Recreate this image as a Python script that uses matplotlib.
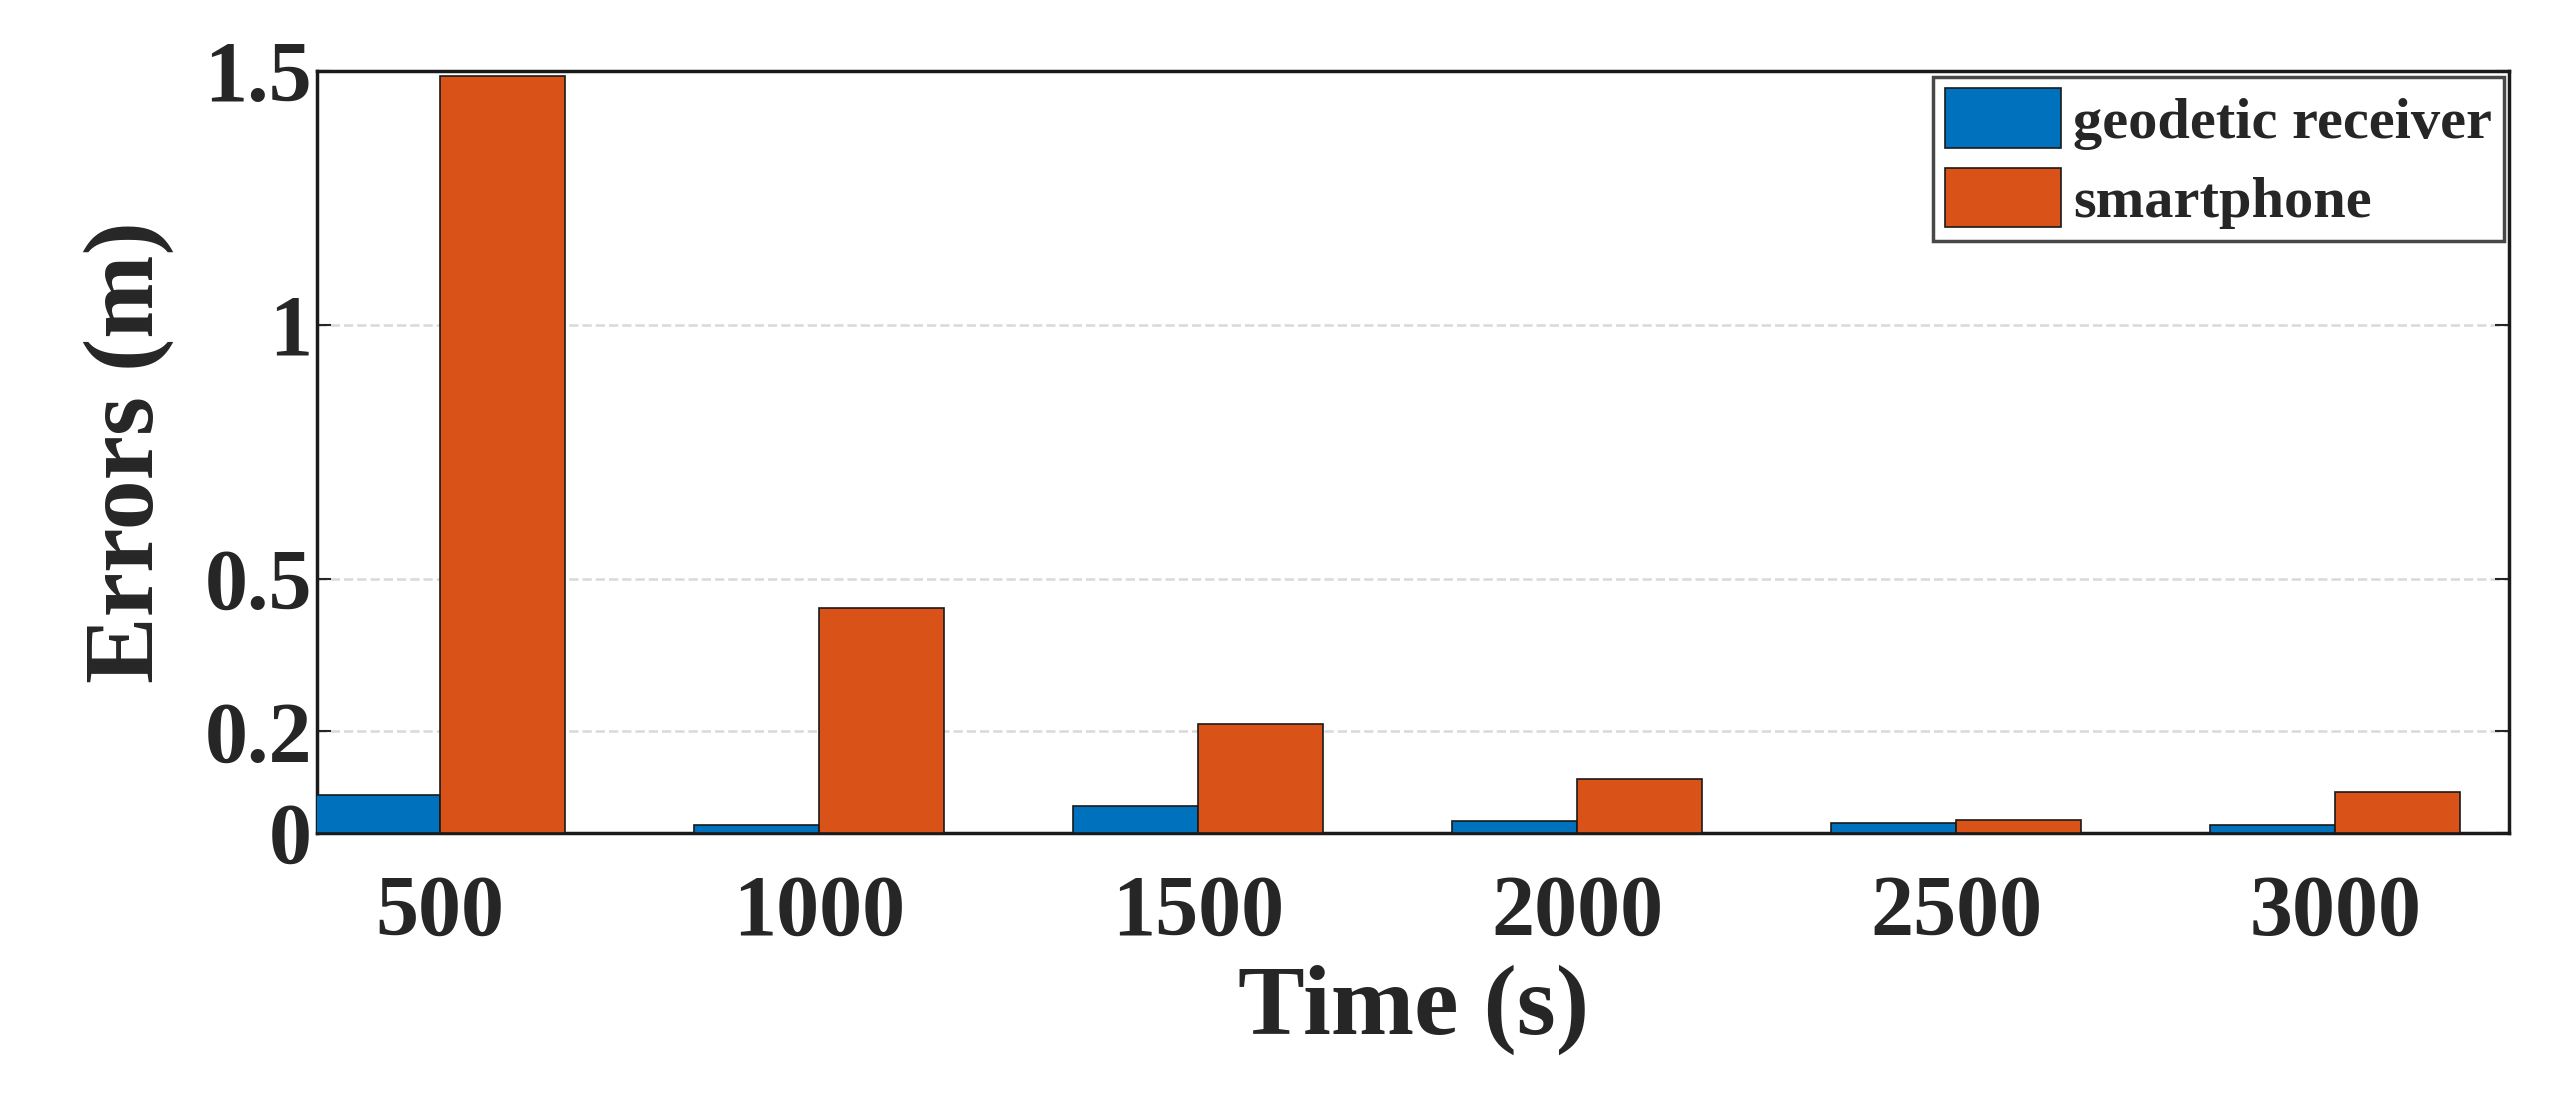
import matplotlib
matplotlib.use("Agg")
import matplotlib.pyplot as plt
import numpy as np

categories = ["500", "1000", "1500", "2000", "2500", "3000"]
geodetic = [0.074, 0.016, 0.052, 0.023, 0.020, 0.016]
smartphone = [1.49, 0.443, 0.214, 0.107, 0.026, 0.081]
yticks = [0, 0.2, 0.5, 1, 1.5]
yticklabels = ["0", "0.2", "0.5", "1", "1.5"]

plt.rcParams['font.family'] = ['Liberation Serif', 'DejaVu Serif']
plt.rcParams['font.weight'] = 'bold'

fig = plt.figure(figsize=(25.62, 11.09), dpi=100)
ax = fig.add_axes([0.1237, 0.249, 0.9795 - 0.1237, 0.936 - 0.249])
x = np.arange(1, len(categories) + 1)
w = 0.33
ax.bar(x - w/2, geodetic, w, color='#0072BD', edgecolor='#1a1a1a', linewidth=1.2, label='geodetic receiver', zorder=3)
ax.bar(x + w/2, smartphone, w, color='#D95319', edgecolor='#1a1a1a', linewidth=1.2, label='smartphone', zorder=3)
ax.set_xlim(0.675, 6.46)
ax.set_ylim(0, 1.5)
ax.set_yticks(yticks)
ax.set_yticklabels(yticklabels)
ax.set_xticks(x)
ax.set_xticklabels(categories)
ax.tick_params(axis='both', direction='in', labelsize=62, length=10, width=1.5, top=False, right=True, colors='#262626')
ax.tick_params(axis='x', pad=30, length=0)
for s in ax.spines.values():
    s.set_linewidth(2.5)
    s.set_color('#1a1a1a')
ax.yaxis.grid(True, linestyle='--', color='#d9d9d9', linewidth=1.8, zorder=0)
ax.set_xlabel('Time (s)', fontsize=72, fontweight='bold', labelpad=8, color='#262626')
ax.set_ylabel('Errors (m)', fontsize=72, fontweight='bold', labelpad=22, color='#262626')
leg = ax.legend(loc='upper right', fontsize=42, frameon=True, fancybox=False,
                edgecolor='#1a1a1a', handlelength=2.0, handleheight=1.2,
                borderaxespad=0.1, handletextpad=0.2, borderpad=0.2, labelspacing=0.3)
leg.get_frame().set_linewidth(2.5)
for t in leg.get_texts():
    t.set_color('#262626')
fig.savefig('out.png', dpi=100)
